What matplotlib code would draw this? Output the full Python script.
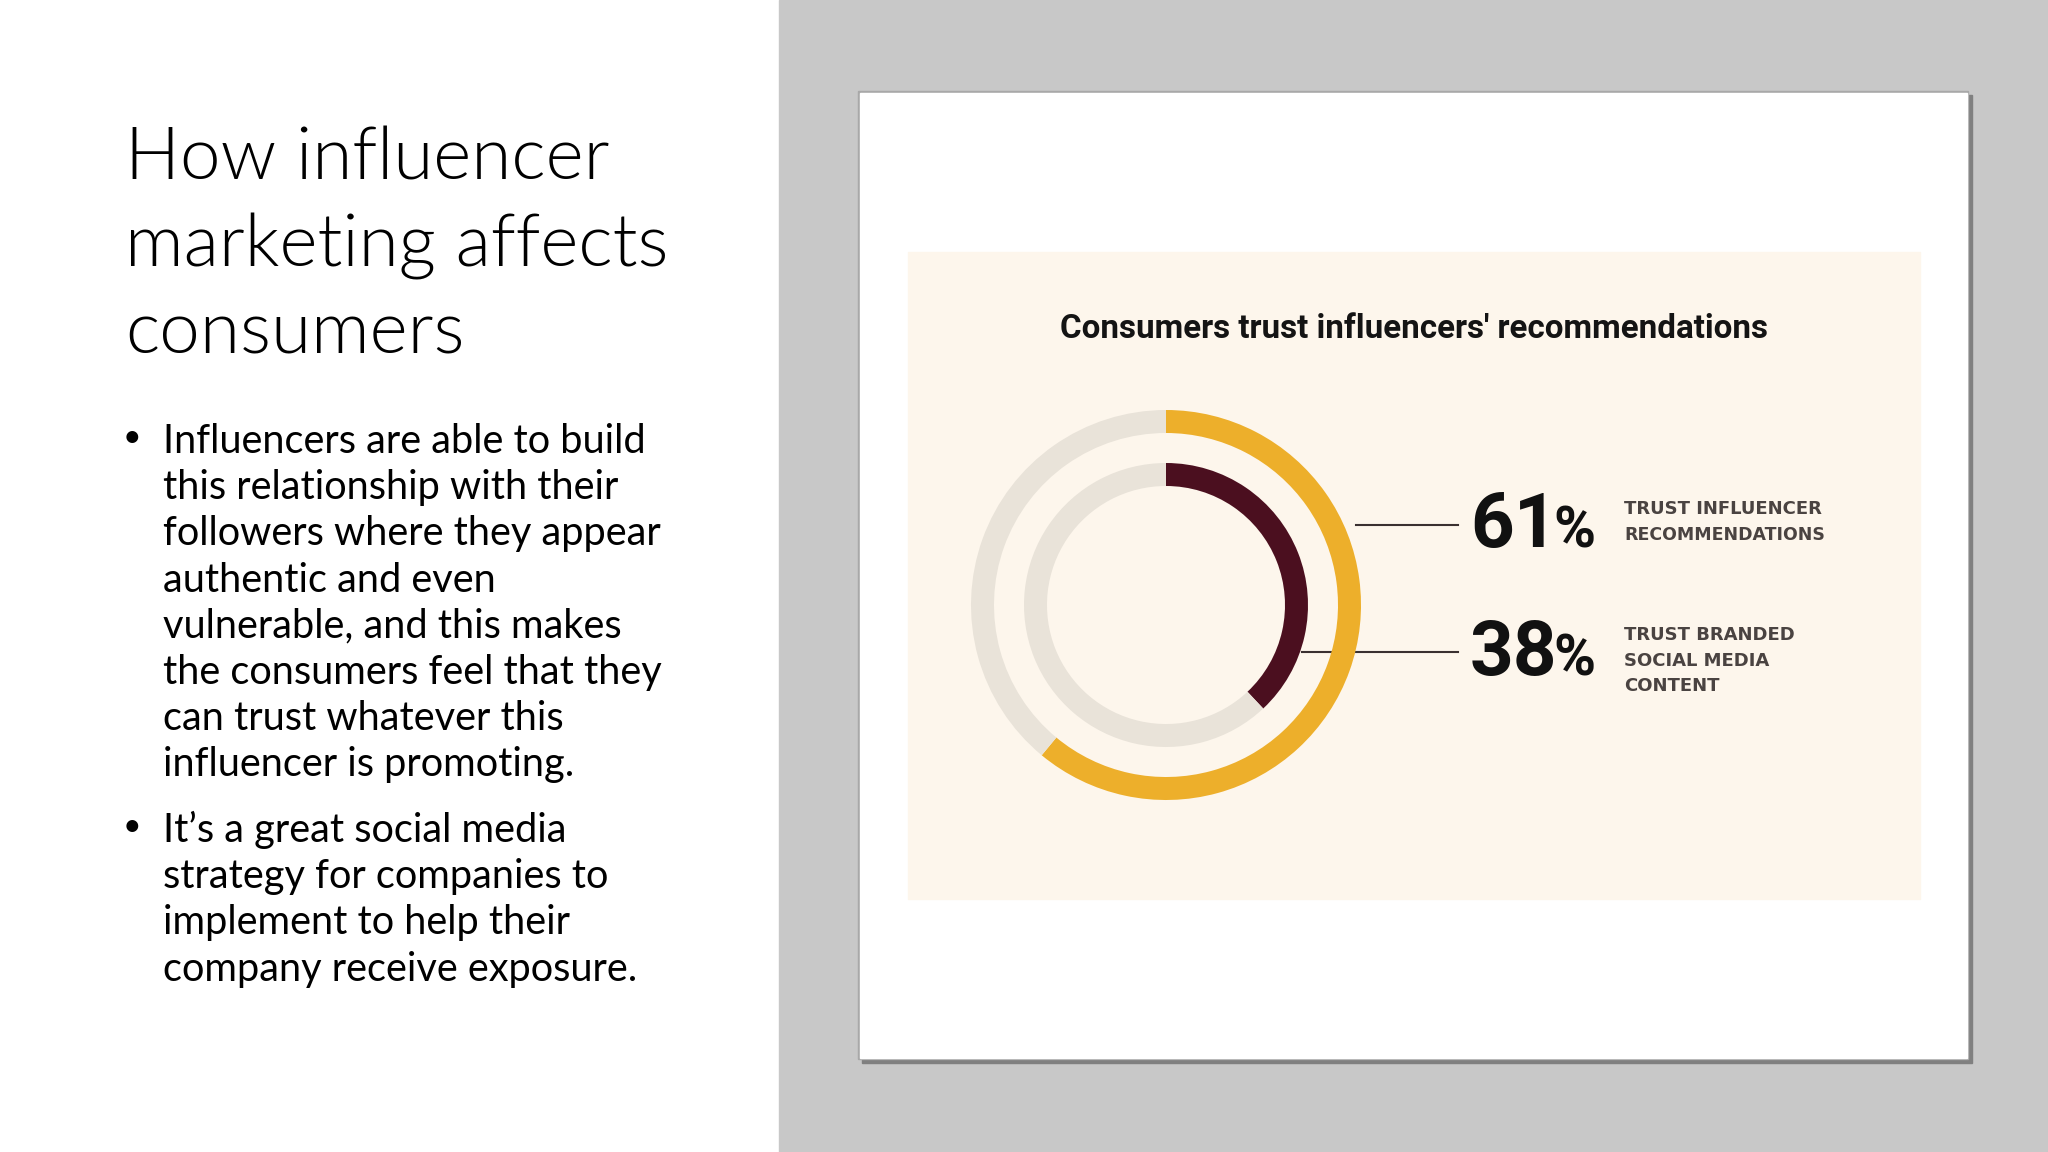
import matplotlib
matplotlib.use("Agg")
import matplotlib.pyplot as plt
from matplotlib.patches import Rectangle

# slide text
slide_title = ["How influencer", "marketing affects", "consumers"]
bullets = [
    ["Influencers are able to build", "this relationship with their",
     "followers where they appear", "authentic and even",
     "vulnerable, and this makes", "the consumers feel that they",
     "can trust whatever this", "influencer is promoting."],
    ["It\u2019s a great social media", "strategy for companies to",
     "implement to help their", "company receive exposure."],
]

# chart data
chart_title = "Consumers trust influencers' recommendations"
shares = [61, 38]
share_labels = [["TRUST INFLUENCER", "RECOMMENDATIONS"],
                ["TRUST BRANDED", "SOCIAL MEDIA", "CONTENT"]]
ring_colors = ["#EDAF2B", "#4B0F1F"]
track = "#E9E3D9"
beige = "#FDF6EC"

W, H = 2048, 1152
fig = plt.figure(figsize=(W / 100, H / 100), dpi=100)
fig.patch.set_facecolor("white")
ax = fig.add_axes([0, 0, 1, 1])
ax.set_xlim(0, W)
ax.set_ylim(H, 0)
ax.axis("off")
r = fig.canvas.get_renderer()


def fit(t, width):
    bb = t.get_window_extent(r)
    t.set_fontsize(t.get_fontsize() * width / bb.width)
    return t.get_fontsize()


# backgrounds
ax.add_patch(Rectangle((779, 0), W - 779, H, color="#C8C8C8", zorder=0))
ax.add_patch(Rectangle((862, 95), 1110, 968, color="#808080", zorder=1))
ax.add_patch(Rectangle((858, 91), 1110, 968, color="#A8A8A8", zorder=1))
ax.add_patch(Rectangle((860, 93), 1107, 965, color="white", zorder=2))
ax.add_patch(Rectangle((908, 252), 1012, 647, color=beige, zorder=3))

# left side text
tfont = dict(family=["Lato", "DejaVu Sans"], weight=300, color="black")
t = ax.text(125, 266, slide_title[1], fontsize=50, **tfont)
fs = fit(t, 544)
for i, line in enumerate(slide_title):
    if i != 1:
        ax.text(125, 180 + i * 86.5, line, fontsize=fs, **tfont)

bfont = dict(family=["Lato", "DejaVu Sans"], color="black")
probe = ax.text(163, 453, bullets[0][0], fontsize=30, **bfont)
bfs = fit(probe, 484)
probe.remove()
starts = [453, 842]
for b, lines in enumerate(bullets):
    ax.text(132, starts[b] - 15, "\u2022", fontsize=bfs * 0.8, ha="center",
            va="center", **bfont)
    for i, line in enumerate(lines):
        ax.text(163, starts[b] + i * 46.2, line, fontsize=bfs, **bfont)

# chart title
ct = ax.text(1060, 338, chart_title, fontsize=22, weight="bold",
             family=["Roboto", "DejaVu Sans"], color="#141414", zorder=5)
fit(ct, 708)

# donut rings
cx, cy, span = 1166, 605, 200
dax = fig.add_axes([(cx - span) / W, (H - cy - span) / H, 2 * span / W, 2 * span / H])
dax.set_zorder(4)
dax.patch.set_alpha(0)
radii = [195, 142]
for val, rad, col in zip(shares, radii, ring_colors):
    dax.pie([val, 100 - val], colors=[col, track], radius=rad, startangle=90,
            counterclock=False, wedgeprops=dict(width=23, linewidth=0))
dax.set_xlim(-span, span)
dax.set_ylim(-span, span)
dax.set_aspect("equal")
dax.axis("off")

# connector lines and labels
line_y = [525, 652]
line_x0 = [1356, 1302]
num_base = [547, 675]
lab_base = [514, 640]
nfont = dict(family=["Roboto", "DejaVu Sans"], weight="bold", color="#111111", zorder=5)
for i, val in enumerate(shares):
    ax.plot([line_x0[i], 1458], [line_y[i], line_y[i]], color="#3A3030", lw=1.5, zorder=5)
    n = ax.text(1470, num_base[i], str(val), fontsize=55, **nfont)
    bb = n.get_window_extent(r)
    ax.text(bb.x1 - 4, num_base[i], "%", fontsize=41, **nfont)
    for j, line in enumerate(share_labels[i]):
        lt = ax.text(1624, lab_base[i] + j * 25.5, line, fontsize=13, weight="bold",
                     family=["DejaVu Sans"], color="#4A4341", zorder=5)
        if line == "RECOMMENDATIONS":
            fit(lt, 199)

fig.savefig("out.png", dpi=100)
